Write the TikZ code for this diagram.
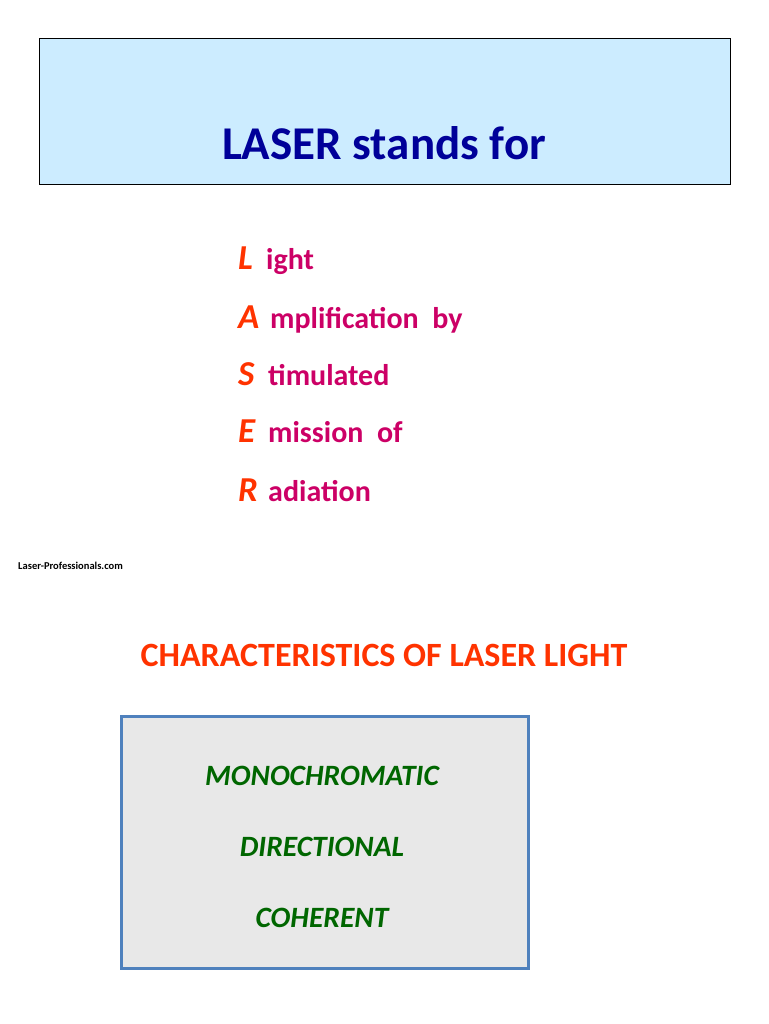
\documentclass[tikz,border=0pt]{standalone}
\usepackage{fontspec}
\setmainfont{Carlito}
\definecolor{boxblue}{HTML}{CCECFF}
\definecolor{titleblue}{HTML}{000099}
\definecolor{laserred}{HTML}{FF3300}
\definecolor{magentaw}{HTML}{CC0066}
\definecolor{greentxt}{HTML}{006600}
\definecolor{frameblue}{HTML}{4F81BD}
\tikzset{
 letter/.style={anchor=base west,text=laserred,font=\fontsize{35}{35}\selectfont\bfseries\itshape,inner sep=0},
 word/.style={anchor=base west,text=magentaw,font=\fontsize{30}{30}\selectfont\bfseries,inner sep=0},
 charitem/.style={text=greentxt,font=\fontsize{29.5}{30}\selectfont\bfseries\itshape}
}
\begin{document}
\begin{tikzpicture}[x=1pt,y=-1pt]
\useasboundingbox (0,0) rectangle (768,1024);
\fill[white] (0,0) rectangle (768,1024);
\draw[fill=boxblue,line width=1pt] (39,39) rectangle (730,185);
\node[text=titleblue,font=\fontsize{47}{47}\selectfont\bfseries] (title) at (384,143) {LASER stands for};
\foreach \L/\W/\y/\x [count=\i] in {L/ight/269/266, A/mplification~~by/328/270, S/timulated/385/268, E/mission~~of/442/268, R/adiation/501/268}{
  \node[letter] (l\i) at (238,\y) {\L};
  \node[word] (w\i) at (\x,\y) {\W};
}
\node[anchor=west,font=\fontsize{10.5}{10.5}\selectfont\bfseries,inner sep=0] (src) at (18,566) {Laser-Professionals.com};
\node[text=laserred,font=\fontsize{34}{34}\selectfont\bfseries] (chars) at (384,655) {CHARACTERISTICS OF LASER LIGHT};
\draw[fill=black!9,draw=frameblue,line width=3pt] (121,716) rectangle (528,968);
\node[charitem] (c1) at (322,776) {MONOCHROMATIC};
\node[charitem] (c2) at (322,847) {DIRECTIONAL};
\node[charitem] (c3) at (322,918) {COHERENT};
\end{tikzpicture}
\end{document}
